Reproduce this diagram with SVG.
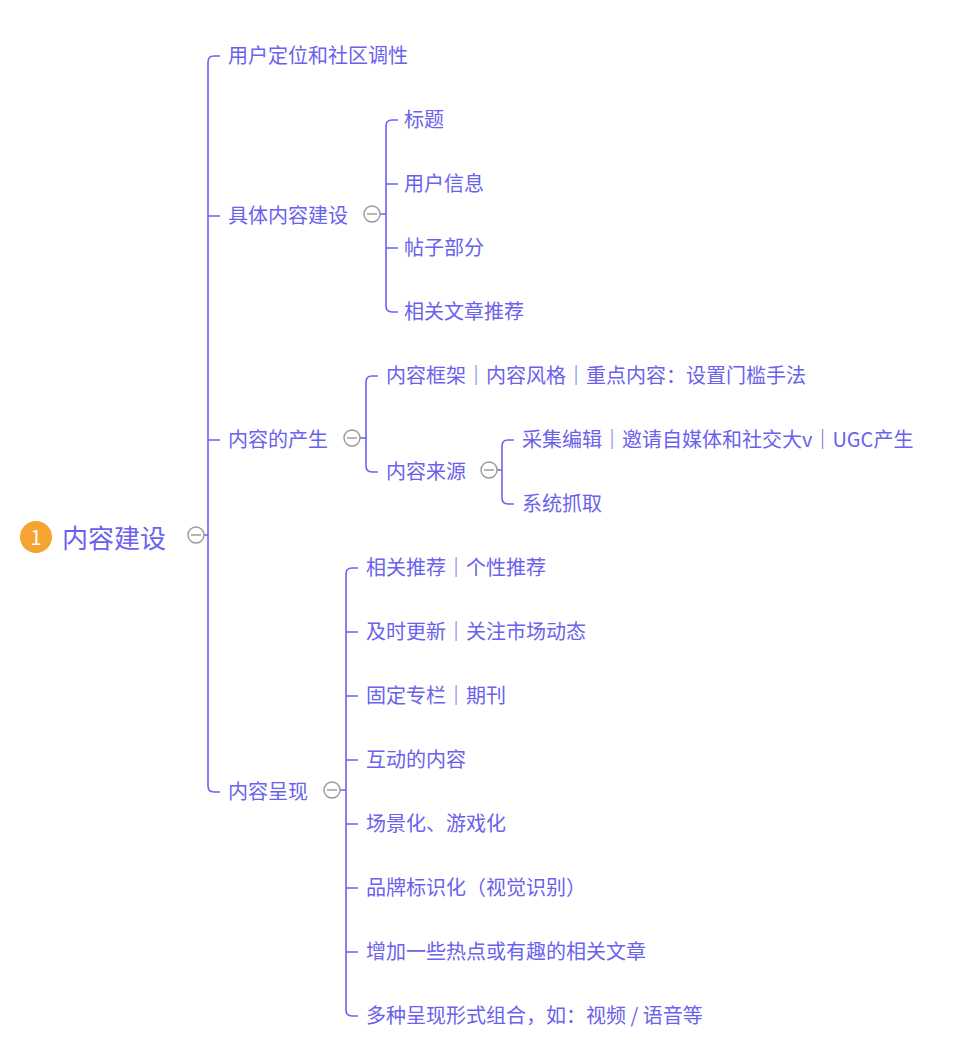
<svg xmlns="http://www.w3.org/2000/svg" width="962" height="1059" viewBox="0 0 962 1059">
<style>
text{font-family:"Noto Sans CJK SC","Noto Sans",sans-serif;fill:#6a62ec;font-size:20px}
.root{font-size:26px}
.ln{fill:none;stroke:#6a62f5;stroke-width:1.6}
.ic{fill:#fff;stroke:#999;stroke-width:1.4}
</style>
<rect width="962" height="1059" fill="#fff"/>
<g id="connectors">
<path class="ln" d="M204 535 H208 M220 56 H214 Q208 56 208 62 V786 Q208 792 214 792 H220 M208 216 H220 M208 440 H220"/>
<path class="ln" d="M380 214 H386 M398 120 H392 Q386 120 386 126 V306 Q386 312 392 312 H398 M386 184 H398 M386 248 H398"/>
<path class="ln" d="M360 438 H366 M378 376 H372 Q366 376 366 382 V466 Q366 472 372 472 H378"/>
<path class="ln" d="M497 470 H502 M514 440 H508 Q502 440 502 446 V498 Q502 504 508 504 H514"/>
<path class="ln" d="M340 790 H346 M358 568 H352 Q346 568 346 574 V1010 Q346 1016 352 1016 H358 M346 632 H358 M346 696 H358 M346 760 H358 M346 824 H358 M346 888 H358 M346 952 H358"/>
</g>
<g id="root"><circle cx="36" cy="537" r="16" fill="#f5a431"/><text x="36" y="545" text-anchor="middle" style="fill:#fff;font-size:20px">1</text><text class="root" x="62" y="548">内容建设</text><circle class="ic" cx="196" cy="535" r="8"/><path d="M191 535H201" stroke="#999" stroke-width="1.4"/></g>
<g id="n1"><text x="228" y="63">用户定位和社区调性</text></g>
<g id="n2"><text x="228" y="223">具体内容建设</text><circle class="ic" cx="372" cy="214" r="8"/><path d="M367 214H377" stroke="#999" stroke-width="1.4"/></g>
<g id="n2a"><text x="404" y="127">标题</text></g>
<g id="n2b"><text x="404" y="191">用户信息</text></g>
<g id="n2c"><text x="404" y="255">帖子部分</text></g>
<g id="n2d"><text x="404" y="319">相关文章推荐</text></g>
<g id="n3"><text x="228" y="447">内容的产生</text><circle class="ic" cx="352" cy="438" r="8"/><path d="M347 438H357" stroke="#999" stroke-width="1.4"/></g>
<g id="n3a"><text x="386" y="383">内容框架｜内容风格｜重点内容：设置门槛手法</text></g>
<g id="n3b"><text x="386" y="479">内容来源</text><circle class="ic" cx="489" cy="470" r="8"/><path d="M484 470H494" stroke="#999" stroke-width="1.4"/></g>
<g id="n3b1"><text x="522" y="447">采集编辑｜邀请自媒体和社交大v｜UGC产生</text></g>
<g id="n3b2"><text x="522" y="511">系统抓取</text></g>
<g id="n4"><text x="228" y="799">内容呈现</text><circle class="ic" cx="332" cy="790" r="8"/><path d="M327 790H337" stroke="#999" stroke-width="1.4"/></g>
<g id="n4a"><text x="366" y="575">相关推荐｜个性推荐</text></g>
<g id="n4b"><text x="366" y="639">及时更新｜关注市场动态</text></g>
<g id="n4c"><text x="366" y="703">固定专栏｜期刊</text></g>
<g id="n4d"><text x="366" y="767">互动的内容</text></g>
<g id="n4e"><text x="366" y="831">场景化、游戏化</text></g>
<g id="n4f"><text x="366" y="895">品牌标识化（视觉识别）</text></g>
<g id="n4g"><text x="366" y="959">增加一些热点或有趣的相关文章</text></g>
<g id="n4h"><text x="366" y="1023">多种呈现形式组合，如：视频 / 语音等</text></g>
</svg>
